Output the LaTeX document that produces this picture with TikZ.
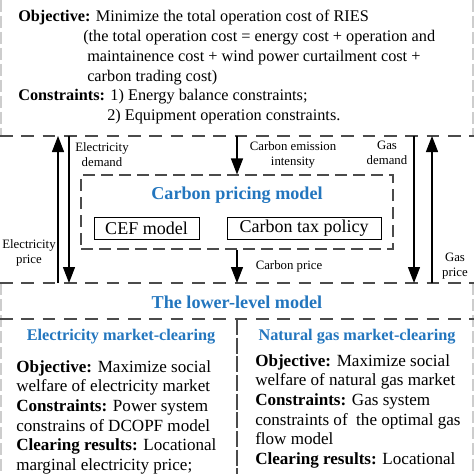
\documentclass[tikz,border=0pt]{standalone}
\usepackage{fontspec}
\setmainfont{Liberation Serif}
\usetikzlibrary{arrows.meta}
\definecolor{lineGray}{RGB}{75,75,75}
\definecolor{edgeGray}{RGB}{205,205,205}
\definecolor{modelBlue}{RGB}{35,118,190}

\tikzset{
  sepline/.style={draw=lineGray, line width=1.1pt, dash pattern=on 9.5pt off 6.5pt},
  edgeline/.style={draw=edgeGray, line width=1.2pt, dash pattern=on 9pt off 3pt},
  flow/.style={draw=black, line width=1pt, -{Triangle[length=12pt,width=9pt]}},
  body/.style={inner sep=0pt, font=\fontsize{12.2}{15}\selectfont, align=left},
  colbody/.style={inner sep=0pt, font=\fontsize{12.8}{14.75}\selectfont, align=left},
  flowlabel/.style={inner sep=0pt, font=\fontsize{9.6}{11.25}\selectfont, align=center},
  modeltitle/.style={inner sep=0pt, text=modelBlue, font=\fontsize{13.6}{15}\selectfont\bfseries},
  marketTitle/.style={inner sep=0pt, text=modelBlue, font=\fontsize{12.2}{14}\selectfont\bfseries},
  subbox/.style={draw=black, line width=0.7pt, inner sep=0pt, minimum height=16.5pt, font=\fontsize{13.5}{16}\selectfont},
}

\begin{document}
\begin{tikzpicture}[x=0.75pt,y=0.75pt,yscale=-1,xscale=1]
    \useasboundingbox (0,0) rectangle (474,474);
    \clip (0,0) rectangle (474,474);
    %Outer box edges
    \draw[edgeline] (1,0) -- (1,136) ;
    \draw[edgeline] (473,0) -- (473,136) ;
    \draw[edgeline] (1,283) -- (1,474) ;
    \draw[edgeline] (473,283) -- (473,474) ;
    %Separating lines
    \draw[sepline] (0,136) -- (474,136) ;
    \draw[sepline] (0,283) -- (474,283) ;
    \draw[sepline] (0,319) -- (474,319) ;
    \draw[draw=lineGray, line width=1pt, dash pattern=on 12pt off 2pt] (237,319) -- (237,474) ;
    % Upper-level text
    \node (objUp) [body, anchor=base west] at (18,22) {\textbf{Objective:} Minimize the total operation cost of RIES};
    \node (costA) [body, anchor=base west] at (83,42) {(the total operation cost = energy cost + operation and};
    \node (costB) [body, anchor=base west] at (87,62) {maintainence cost + wind power curtailment cost +};
    \node (costC) [body, anchor=base west] at (87,82) {carbon trading cost)};
    \node (conA) [body, anchor=base west] at (18,101) {\textbf{Constraints:} 1) Energy balance constraints;};
    \node (conB) [body, anchor=base west] at (107,121) {2) Equipment operation constraints.};
    % Carbon pricing model
    \node (cpbox) [draw=lineGray, line width=0.8pt, dash pattern=on 9pt off 4.5pt, minimum width=234pt, minimum height=55.5pt] at (237,212) {};
    \node (cpTitle) [modeltitle] at (237,195) {Carbon pricing model};
    \node (cef) [subbox, minimum width=78.75pt] at (146.5,228) {CEF model};
    \node (tax) [subbox, minimum width=115.5pt] at (304,228) {Carbon tax policy};
    % Flow end points
    \coordinate (epBot) at (58,283);
    \coordinate (epTop) at (58,136);
    \coordinate (edTop) at (69,136);
    \coordinate (edBot) at (69,283);
    \coordinate (ceiTop) at (237,136);
    \coordinate (cpBot) at (237,283);
    \coordinate (gdTop) at (414,136);
    \coordinate (gdBot) at (414,283);
    \coordinate (gpBot) at (432,283);
    \coordinate (gpTop) at (432,136);
    \draw[flow] (epBot) -- (epTop) ;
    \draw[flow] (edTop) -- (edBot) ;
    \draw[flow] (ceiTop) -- (cpbox.north) ;
    \draw[flow] (cpbox.south) -- (cpBot) ;
    \draw[flow] (gdTop) -- (gdBot) ;
    \draw[flow] (gpBot) -- (gpTop) ;
    % Flow labels
    \node (edLabel) [flowlabel] at (102,155) {Electricity\\demand};
    \node (epLabel) [flowlabel] at (29,253) {Electricity\\price};
    \node (ceiLabel) [flowlabel] at (293,155) {Carbon emission\\intensity};
    \node (cpLabel) [flowlabel] at (289,266) {Carbon price};
    \node (gdLabel) [flowlabel] at (387,153) {Gas\\demand};
    \node (gpLabel) [flowlabel] at (455,266) {Gas\\price};
    % Lower-level model
    \node (lowTitle) [modeltitle] at (237,302) {The lower-level model};
    \node (elecTitle) [marketTitle] at (121,337) {Electricity market-clearing};
    \node (gasTitle) [marketTitle] at (357,337) {Natural gas market-clearing};
    \node (elecBody) [colbody, anchor=north west] at (16,360) {\textbf{Objective:} Maximize social\\welfare of electricity market\\\textbf{Constraints:} Power system\\constrains of DCOPF model\\\textbf{Clearing results:} Locational\\marginal electricity price;};
    \node (gasBody) [colbody, anchor=north west] at (255,354) {\textbf{Objective:} Maximize social\\welfare of natural gas market\\\textbf{Constraints:} Gas system\\constraints of\ \ the optimal gas\\flow model\\\textbf{Clearing results:} Locational};
\end{tikzpicture}
\end{document}
